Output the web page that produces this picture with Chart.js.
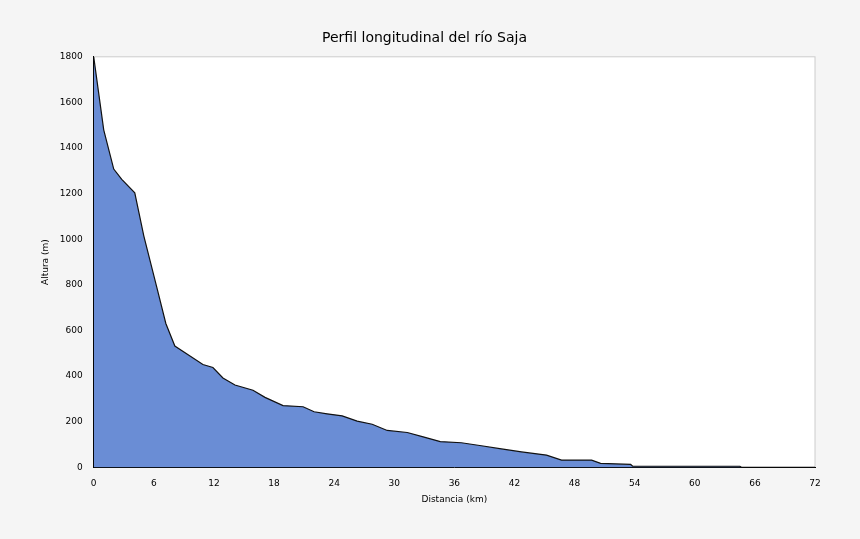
<!DOCTYPE html>
<html>
<head>
<meta charset="utf-8">
<script src="https://cdn.jsdelivr.net/npm/chart.js@4"></script>
<style>
  html, body { margin: 0; padding: 0; background: #f5f5f5; }
</style>
</head>
<body>
<canvas id="chart" width="860" height="539"></canvas>
<script>
// distance (km) and altitude (m) of the profile
const distancia = [0, 1, 2, 2.8, 4.1, 5, 6.3, 7.2, 8.1, 9.5, 10.9, 11.9, 12.9, 14.1, 15.9, 17.1, 18.9, 20.9, 22, 23.3, 24.8, 26.3, 27.8, 29.3, 31.3, 32.8, 34.6, 36.7, 38.7, 40.7, 42.7, 45.2, 46.7, 49.7, 50.6, 53.6, 53.8, 64.5, 64.7, 72];
const altura = [1800, 1480, 1308, 1263, 1204, 1015, 789, 631, 532, 492, 451, 438, 392, 361, 338, 307, 271, 266, 244, 235, 226, 203, 189, 162, 153, 135, 113, 108, 95, 81, 68, 54, 32, 32, 18, 13, 5, 5, 0, 0];
const xTicks = [0, 6, 12, 18, 24, 30, 36, 42, 48, 54, 60, 66, 72];
const yTicks = [0, 200, 400, 600, 800, 1000, 1200, 1400, 1600, 1800];

const plotBg = {
  id: "plotBg",
  beforeDraw(chart) {
    const a = chart.chartArea, ctx = chart.ctx;
    ctx.save();
    ctx.fillStyle = "#ffffff";
    ctx.fillRect(a.left, a.top, a.right - a.left, a.bottom - a.top);
    ctx.strokeStyle = "#cccccc";
    ctx.strokeRect(a.left, a.top, a.right - a.left, a.bottom - a.top);
    ctx.restore();
  }
};

Chart.defaults.font.family = "'DejaVu Sans', sans-serif";
Chart.defaults.color = "#000";

new Chart(document.getElementById("chart"), {
  type: "line",
  data: {
    datasets: [{
      data: distancia.map((d, i) => ({ x: d, y: altura[i] })),
      borderColor: "#111",
      borderWidth: 1.2,
      backgroundColor: "#6a8dd5",
      fill: "origin",
      pointRadius: 0,
      tension: 0
    }]
  },
  options: {
    responsive: false,
    animation: false,
    devicePixelRatio: 1,
    layout: { padding: { left: 34, right: 45, top: 30, bottom: 32 } },
    plugins: {
      legend: { display: false },
      tooltip: { enabled: false },
      title: { display: true, text: "Perfil longitudinal del río Saja", font: { size: 14, weight: "normal" }, padding: { top: 0, bottom: 10 } }
    },
    scales: {
      x: {
        type: "linear", min: 0, max: 72,
        afterBuildTicks: s => { s.ticks = xTicks.map(v => ({ value: v })); },
        grid: { display: false },
        border: { color: "#000" },
        ticks: { font: { size: 9 }, maxRotation: 0, autoSkip: false },
        title: { display: true, text: "Distancia (km)", font: { size: 9 }, padding: 2 }
      },
      y: {
        min: 0, max: 1800,
        afterBuildTicks: s => { s.ticks = yTicks.map(v => ({ value: v })); },
        ticks: { font: { size: 9 }, autoSkip: false, callback: v => String(v) },
        grid: { display: false },
        border: { color: "#000" },
        title: { display: true, text: "Altura (m)", font: { size: 9 }, padding: 6 }
      }
    }
  },
  plugins: [plotBg]
});
</script>
</body>
</html>
